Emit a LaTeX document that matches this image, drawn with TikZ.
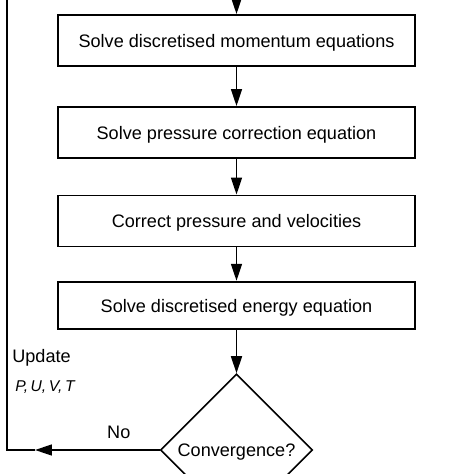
\documentclass[tikz,border=0pt]{standalone}
\usepackage{fontspec}
\setmainfont{Liberation Sans}
\usetikzlibrary{arrows.meta, shapes.geometric}
\tikzset{
  stepbox/.style={draw, line width=1.1pt, rectangle, minimum width=7.14cm, inner sep=0,
    text depth=0pt, font=\fontsize{10.3}{12}\selectfont},
  testbox/.style={draw, line width=0.9pt, diamond, minimum width=3.04cm, minimum height=3.04cm,
    inner sep=0, text depth=0pt, font=\fontsize{10.3}{12}\selectfont},
  flow/.style={line width=0.9pt, -{Triangle[length=3.4mm, width=2.2mm]}},
  lab/.style={inner sep=0, font=\fontsize{10.3}{12}\selectfont}
}

\begin{document}
\begin{tikzpicture}[x=0.02cm, y=-0.02cm]
      \fill [white] (0, 0) rectangle (474, 474);
      \clip (0, 0) rectangle (474, 474);

      \node [stepbox, minimum height=1.02cm] (mom) at (236.5, 40.5) {Solve discretised momentum equations};
      \node [stepbox, minimum height=1.02cm] (pcor) at (236.5, 132.5) {Solve pressure correction equation};
      \node [stepbox, minimum height=1.02cm] (corr) at (236.5, 221) {Correct pressure and velocities};
      \node [stepbox, minimum height=0.95cm] (energy) at (236.5, 305.5) {Solve discretised energy equation};
      \node [testbox] (conv) at (236.5, 450) {Convergence?};

      \coordinate (entry) at (236.5, -20);
      \coordinate (corner) at (7, -20);
      \coordinate (back) at (35, 450);

      \draw [flow] (entry) -- (mom);
      \draw [flow] (mom) -- (pcor);
      \draw [flow] (pcor) -- (corr);
      \draw [flow] (corr) -- (energy);
      \draw [flow] (energy) -- (conv);

      \draw [flow] (conv.west) -- (back);
      \draw [line width=0.9pt] (back) -| (corner) -- (entry);

      \node [lab, anchor=base west] (upd) at (12, 362) {Update};
      \node [lab, anchor=base west, font=\fontsize{8.9}{10}\selectfont\itshape] (vars) at (15, 391.5) {P,\,U,\,V,\,T};
      \node [lab, anchor=base] (no) at (118.8, 438.3) {No};
    \end{tikzpicture}
\end{document}
